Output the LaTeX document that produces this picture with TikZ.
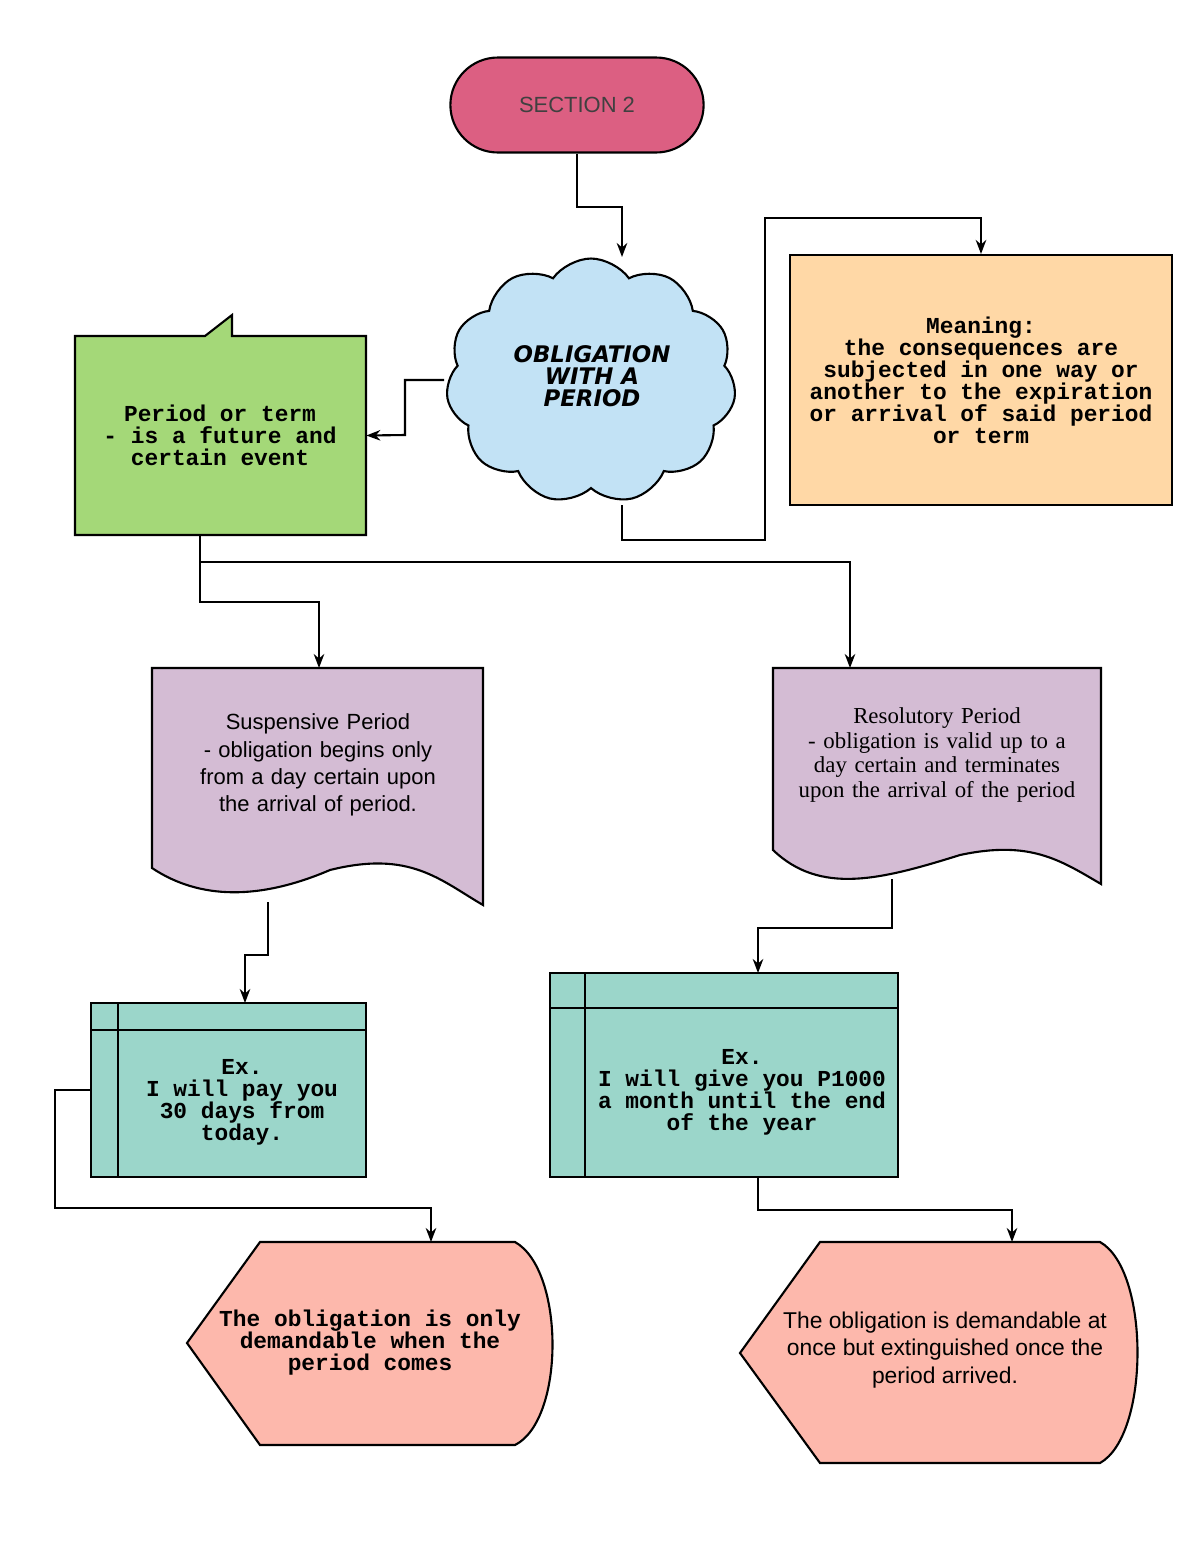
\documentclass[tikz,border=0pt]{standalone}
\usepackage{fontspec}
\setmainfont{Liberation Sans}
\newfontfamily\mono{Liberation Mono}
\newfontfamily\serifx{Liberation Serif}
\newfontfamily\cloudf{DejaVu Sans}
\usetikzlibrary{shapes.symbols,shapes.misc,arrows.meta}
\definecolor{secc}{HTML}{DC5F82}
\definecolor{cloudc}{HTML}{C2E2F5}
\definecolor{greenc}{HTML}{A4D878}
\definecolor{orangec}{HTML}{FFD8A6}
\definecolor{purpc}{HTML}{D4BCD4}
\definecolor{tealc}{HTML}{9BD6CA}
\definecolor{pinkc}{HTML}{FDB8AC}
\begin{document}
\begin{tikzpicture}[x=0.02cm,y=-0.02cm,
  shp/.style={draw=black,line width=1.2pt},
  conn/.style={draw=black,line width=1.2pt,-{Stealth[length=8pt,width=6pt]}},
  mt/.style={font=\mono\bfseries\fontsize{13}{12.5}\selectfont,align=center},
  st/.style={font=\fontsize{12.5}{15.5}\selectfont,align=center},
]
\useasboundingbox (0,0) rectangle (1200,1553);
% section
\node[shp,fill=secc,rounded rectangle,minimum width=5.3cm,minimum height=1.9cm,font=\fontsize{12.5}{14}\selectfont\color{black!75}] (sec) at (577,105) {SECTION 2};
% cloud
\node[shp,fill=cloudc,cloud,cloud puffs=11,cloud puff arc=110,aspect=1.2,minimum width=5.8cm,minimum height=4.9cm,inner sep=0pt] (cl) at (591,381) {};
\node[font=\cloudf\bfseries\itshape\fontsize{13}{12.5}\selectfont,align=center] at (592,376) {OBLIGATION\\WITH A\\PERIOD};
% green
\draw[shp,fill=greenc] (75,336) -- (205,336) -- (232,315) -- (232,336) -- (366,336) -- (366,535) -- (75,535) -- cycle;
\node[minimum width=5.82cm,minimum height=3.98cm,inner sep=0] (gr) at (220.5,435.5) {};
\node[mt] at (220,435) {Period or term\\- is a future and\\certain event};
% orange
\node[shp,fill=orangec,minimum width=7.64cm,minimum height=5cm,inner sep=0] (me) at (981,380) {};
\node[mt] at (981,380) {Meaning:\\the consequences are\\subjected in one way or\\another to the expiration\\or arrival of said period\\or term};
% purple docs
\draw[shp,fill=purpc] (152,668) -- (483,668) -- (483,905) .. controls (440,880) and (410,850) .. (330,870) .. controls (260,900) and (200,900) .. (152,868) -- cycle;
\coordinate (sp) at (319,668); \coordinate (spb) at (268,902);
\node[st,text width=6.5cm] at (318,765) {Suspensive Period\\- obligation begins only from a day certain upon the arrival of period.};
\draw[shp,fill=purpc] (773,668) -- (1101,668) -- (1101,884) .. controls (1060,860) and (1030,840) .. (960,855) .. controls (880,880) and (820,895) .. (773,850) -- cycle;
\coordinate (rp) at (850,668); \coordinate (rpb) at (892,879);
\node[st,text width=6.3cm,font=\serifx\fontsize{13}{14.2}\selectfont] at (937,755) {Resolutory Period\\- obligation is valid up to a day certain and terminates upon the arrival of the period};
% teal
\node[shp,fill=tealc,minimum width=5.5cm,minimum height=3.48cm,inner sep=0] (t1) at (228.5,1090) {};
\draw[shp] (118,1003) -- (118,1177) (91,1030) -- (366,1030);
\node[mt] at (242,1102) {Ex.\\I will pay you\\30 days from\\today.};
\node[shp,fill=tealc,minimum width=6.96cm,minimum height=4.08cm,inner sep=0] (t2) at (724,1075) {};
\draw[shp] (585,973) -- (585,1177) (550,1008) -- (898,1008);
\node[mt] at (742,1092) {Ex.\\I will give you P1000\\a month until the end\\of the year};
% pink displays
\draw[shp,fill=pinkc] (187,1343) -- (260,1242) -- (515,1242) .. controls (565,1270) and (565,1420) .. (515,1445) -- (260,1445) -- cycle;
\coordinate (d1) at (431,1242);
\node[mt] at (370,1343) {The obligation is only\\demandable when the\\period comes};
\draw[shp,fill=pinkc] (740,1353) -- (820,1242) -- (1100,1242) .. controls (1150,1270) and (1150,1435) .. (1100,1463) -- (820,1463) -- cycle;
\coordinate (d2) at (1012,1242);
\node[st,font=\fontsize{13}{15.5}\selectfont] at (945,1350) {The obligation is demandable at\\once but extinguished once the\\period arrived.};
% connectors
\draw[conn] (sec.south) -- (577,207) -- (622,207) -- (622,257);
\draw[conn] (444,380) -- (405,380) -- (405,435) -- (gr.east);
\draw[conn] (622,505) -- (622,540) -- (765,540) -- (765,218) -- (981,218) -- (me.north);
\draw[conn] (200,535) -- (200,602) -- (319,602) -- (sp);
\draw[conn] (200,562) -- (850,562) -- (rp);
\draw[conn] (spb) -- (268,955) -- (245,955) -- (245,1003);
\draw[conn] (rpb) -- (892,928) -- (758,928) -- (758,973);
\draw[conn] (t1.west) ++(0,0) -- (55,1090) -- (55,1208) -- (431,1208) -- (d1);
\draw[conn] (758,1177) -- (758,1210) -- (1012,1210) -- (d2);
\end{tikzpicture}
\end{document}
